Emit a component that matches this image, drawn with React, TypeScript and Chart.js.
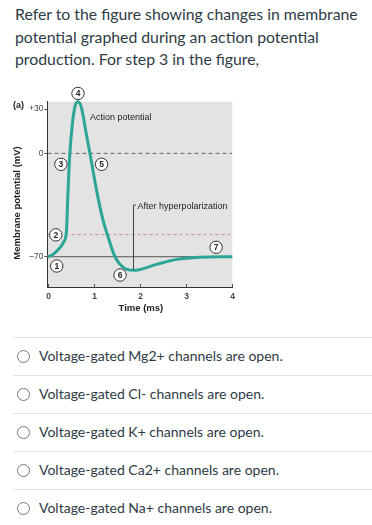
import React, { useEffect, useRef } from "react";
import { Chart, registerables } from "chart.js";

Chart.register(...registerables);

// ---- Data ----
const timeMs = [0, 0.1, 0.19, 0.28, 0.35, 0.41, 0.44, 0.48, 0.54, 0.6, 0.66, 0.73, 0.85, 0.93, 1.06, 1.2, 1.31, 1.46, 1.64, 1.86, 2.0, 2.36, 2.8, 3.3, 4.0];
const potentialMv = [-70, -68.8, -66.5, -63.5, -60, -53, -29, -2, 20.5, 32.5, 35, 31.5, 11.4, -2, -24.7, -45, -56.4, -70, -77.2, -79.2, -78.6, -75.2, -71.8, -70.4, -70];

const zeroMv = 0;
const thresholdMv = -55;
const restingMv = -70;

const xTicks = [0, 1, 2, 3, 4];
const xTickLabels = ["0", "1", "2", "3", "4"];
const yTicks = [30, 0, -70];
const yTickLabels = ["+30", "0", "–70"];

const stepLabels = ["1", "2", "3", "4", "5", "6", "7"];
const stepTimes = [0.2, 0.18, 0.29, 0.66, 1.17, 1.57, 3.65];
const stepMv = [-76.3, -55.2, -7.4, 40.6, -7.4, -82.4, -63.6];

const ahpTime = 1.84;
const ahpTopMv = -35;
const ahpBottomMv = -78.8;
const ahpLabel = "After hyperpolarization";
const apLabel = "Action potential";
const apLabelTime = 0.92;
const apLabelMv = 24.6;

const questionLines = [
  "Refer to the figure showing changes in membrane",
  "potential graphed during an action potential",
  "production. For step 3 in the figure,",
];
const answers = [
  "Voltage-gated Mg2+ channels are open.",
  "Voltage-gated Cl- channels are open.",
  "Voltage-gated K+ channels are open.",
  "Voltage-gated Ca2+ channels are open.",
  "Voltage-gated Na+ channels are open.",
];

const FONT = "Arial, 'Liberation Sans', Helvetica, sans-serif";

const figurePlugin = {
  id: "figureAnnotations",
  beforeDraw(chart: any) {
    const { ctx, chartArea: a } = chart;
    ctx.save();
    ctx.fillStyle = "#e3e3e3";
    ctx.fillRect(a.left, a.top, a.right - a.left, a.bottom - a.top);
    ctx.restore();
  },
  afterDraw(chart: any) {
    const { ctx, chartArea: a } = chart;
    const xs = chart.scales.x;
    const ys = chart.scales.y;
    ctx.save();
    // x tick marks (inside) and labels
    ctx.strokeStyle = "#555";
    ctx.lineWidth = 1;
    ctx.fillStyle = "#444";
    ctx.font = `bold 8.5px ${FONT}`;
    ctx.textAlign = "center";
    ctx.textBaseline = "middle";
    xTicks.forEach((t, i) => {
      const px = Math.round(xs.getPixelForValue(t)) + 0.5;
      ctx.beginPath();
      ctx.moveTo(px, a.bottom);
      ctx.lineTo(px, a.bottom - 3);
      ctx.stroke();
      ctx.fillText(xTickLabels[i], px, a.bottom + 9.5);
    });
    // x axis title
    ctx.fillStyle = "#222";
    ctx.font = `bold 9.5px ${FONT}`;
    ctx.fillText("Time (ms)", (a.left + a.right) / 2 + 1, a.bottom + 21);
    // after hyperpolarization marker
    const vx = Math.round(xs.getPixelForValue(ahpTime)) + 0.5;
    const vTop = ys.getPixelForValue(ahpTopMv);
    const vBot = ys.getPixelForValue(ahpBottomMv);
    ctx.strokeStyle = "#444";
    ctx.beginPath();
    ctx.moveTo(vx, vBot);
    ctx.lineTo(vx, vTop);
    ctx.lineTo(vx + 2.5, vTop);
    ctx.stroke();
    ctx.fillStyle = "#222";
    ctx.font = `9px ${FONT}`;
    ctx.textAlign = "left";
    ctx.fillText(ahpLabel, vx + 4, vTop + 1);
    // action potential label
    ctx.fillText(apLabel, xs.getPixelForValue(apLabelTime), ys.getPixelForValue(apLabelMv));
    // step circles
    ctx.textAlign = "center";
    ctx.font = `bold 8.5px ${FONT}`;
    stepLabels.forEach((lab, i) => {
      const cx = xs.getPixelForValue(stepTimes[i]);
      const cy = ys.getPixelForValue(stepMv[i]);
      ctx.beginPath();
      ctx.arc(cx, cy, 6.2, 0, Math.PI * 2);
      ctx.fillStyle = "#ffffff";
      ctx.fill();
      ctx.strokeStyle = "#333";
      ctx.lineWidth = 1;
      ctx.stroke();
      ctx.fillStyle = "#222";
      ctx.fillText(lab, cx, cy + 0.5);
    });
    // panel label
    ctx.textAlign = "left";
    ctx.font = `bold 9px ${FONT}`;
    ctx.fillText("(a)", 13, 21);
    // y axis title
    ctx.translate(17, 118);
    ctx.rotate(-Math.PI / 2);
    ctx.textAlign = "center";
    ctx.font = `bold 9.5px ${FONT}`;
    ctx.fillText("Membrane potential (mV)", 0, 0);
    ctx.restore();
  },
};

function ActionPotentialChart() {
  const ref = useRef<HTMLCanvasElement | null>(null);
  useEffect(() => {
    const canvas = ref.current;
    if (!canvas) return;
    const line = (y: number) => [
      { x: 0, y },
      { x: 4, y },
    ];
    const chart = new Chart(canvas, {
      type: "line",
      data: {
        datasets: [
          {
            data: timeMs.map((t, i) => ({ x: t, y: potentialMv[i] })),
            borderColor: "#2ba596",
            borderWidth: 3,
            pointRadius: 0,
            cubicInterpolationMode: "monotone",
            clip: false,
          } as any,
          {
            data: line(restingMv),
            borderColor: "#555",
            borderWidth: 1,
            pointRadius: 0,
          },
          {
            data: line(zeroMv),
            borderColor: "#666",
            borderWidth: 1,
            borderDash: [4, 3],
            pointRadius: 0,
          },
          {
            data: line(thresholdMv),
            borderColor: "#c98a8a",
            borderWidth: 1,
            borderDash: [3, 3],
            pointRadius: 0,
          },
        ],
      },
      options: {
        animation: false,
        responsive: false,
        events: [],
        layout: { padding: { top: 16.7, right: 17.7, left: 0, bottom: 0 } },
        plugins: { legend: { display: false }, tooltip: { enabled: false } },
        scales: {
          x: {
            type: "linear",
            min: 0,
            max: 4,
            afterBuildTicks: (s: any) => {
              s.ticks = xTicks.map((v) => ({ value: v }));
            },
            afterFit: (s: any) => {
              s.height = 33;
            },
            grid: { display: false },
            border: { display: true, color: "#333", width: 1 },
            ticks: { display: false },
          },
          y: {
            type: "linear",
            min: -90.5,
            max: 35,
            afterBuildTicks: (s: any) => {
              s.ticks = yTicks.map((v) => ({ value: v }));
            },
            afterFit: (s: any) => {
              s.width = 47.5;
            },
            grid: { display: true, drawOnChartArea: false, tickLength: 3, color: "#444" },
            border: { display: true, color: "#333", width: 1 },
            ticks: {
              padding: 1,
              color: "#444",
              font: { family: FONT, size: 8.5 },
              callback: (v: any) => yTickLabels[yTicks.indexOf(Number(v))] ?? "",
            },
          },
        },
      },
      plugins: [figurePlugin],
    });
    return () => chart.destroy();
  }, []);
  return <canvas ref={ref} width={250} height={235} style={{ width: 250, height: 235, display: "block" }} />;
}

export default function App() {
  return (
    <div
      style={{
        position: "absolute",
        left: 0,
        top: 0,
        width: 372,
        height: 525,
        background: "#fff",
        fontFamily: "Lato, 'Open Sans', sans-serif",
        overflow: "hidden",
      }}
    >
      <div
        style={{
          position: "absolute",
          left: 15,
          top: 3,
          fontSize: 15.8,
          lineHeight: "22.5px",
          color: "#2d3b45",
          whiteSpace: "nowrap",
        }}
      >
        {questionLines.map((l, i) => (
          <div key={i}>{l}</div>
        ))}
      </div>
      <div style={{ position: "absolute", left: 0, top: 85 }}>
        <ActionPotentialChart />
      </div>
      {answers.map((a, i) => {
        const top = 337 + i * 38.1;
        return (
          <div key={i} style={{ position: "absolute", left: 13, right: 0, top, height: 38, borderTop: "1px solid #e2e2e2" }}>
            <div
              style={{
                position: "absolute",
                left: 4,
                top: 12,
                width: 11,
                height: 11,
                borderRadius: "50%",
                border: "1px solid #777",
              }}
            />
            <div
              style={{
                position: "absolute",
                left: 26,
                top: 0,
                height: 36,
                lineHeight: "36px",
                fontSize: 14,
                color: "#2d3b45",
                whiteSpace: "nowrap",
              }}
            >
              {a}
            </div>
          </div>
        );
      })}
    </div>
  );
}
